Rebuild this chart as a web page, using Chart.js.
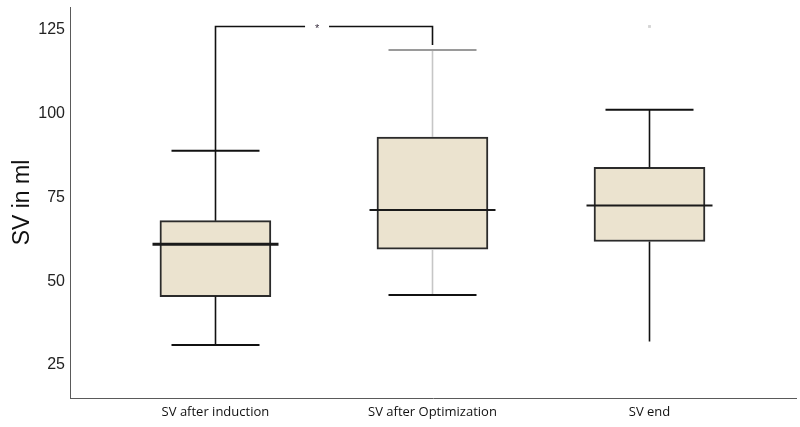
<!DOCTYPE html>
<html>
<head>
<meta charset="utf-8">
<script src="https://cdn.jsdelivr.net/npm/chart.js@4.4.1/dist/chart.umd.min.js"></script>
<style>
    html, body { margin: 0; padding: 0; background: #fff; }
    #wrap { width: 800px; height: 427px; }
</style>
</head>
<body>
<div id="wrap"><canvas id="boxChart"></canvas></div>
<script>
// Box plot values
const categories = ['SV after induction', 'SV after Optimization', 'SV end'];
const whiskerLow = [31.0, 45.9, 32.0];
const quartile1 = [45.4, 59.5, 61.8];
const medians = [61.0, 71.2, 72.5];
const quartile3 = [68.0, 92.9, 83.9];
const whiskerHigh = [88.8, 118.8, 101.0];
const outlierPoints = [{ x: 2, y: 125.8 }];
const yTicks = [25, 50, 75, 100, 125];

// Significance bracket between group 0 and group 1
const bracketTop = 125.8;
const bracketRightEnd = 120.3;
const bracketLabel = '*';

// Styling per group
const stemColors = ['#111', '#c6c6c6', '#111'];
const upperCapColors = ['#111', '#9a9a9a', '#111'];
const lowerCapColors = ['#111', '#111', null];
const medianWidths = [3, 2, 2];

const boxData = categories.map((c, i) => ({ x: i, y: [quartile1[i], quartile3[i]] }));

const boxExtras = {
    id: 'boxExtras',
    afterDatasetsDraw(chart) {
        const { ctx, scales: { x, y } } = chart;
        const capHalf = 44;
        const medHalf = 63;
        ctx.save();
        ctx.lineCap = 'butt';
        categories.forEach((c, i) => {
            const cx = Math.round(x.getPixelForValue(i)) + 0.5;
            // stems
            ctx.strokeStyle = stemColors[i];
            ctx.lineWidth = 1.6;
            ctx.beginPath();
            ctx.moveTo(cx, y.getPixelForValue(quartile3[i]));
            ctx.lineTo(cx, y.getPixelForValue(whiskerHigh[i]));
            ctx.moveTo(cx, y.getPixelForValue(quartile1[i]));
            ctx.lineTo(cx, y.getPixelForValue(whiskerLow[i]));
            ctx.stroke();
            // caps
            ctx.lineWidth = 2;
            if (upperCapColors[i]) {
                ctx.strokeStyle = upperCapColors[i];
                const yy = y.getPixelForValue(whiskerHigh[i]);
                ctx.beginPath();
                ctx.moveTo(cx - capHalf, yy);
                ctx.lineTo(cx + capHalf, yy);
                ctx.stroke();
            }
            if (lowerCapColors[i]) {
                ctx.strokeStyle = lowerCapColors[i];
                const yy = y.getPixelForValue(whiskerLow[i]);
                ctx.beginPath();
                ctx.moveTo(cx - capHalf, yy);
                ctx.lineTo(cx + capHalf, yy);
                ctx.stroke();
            }
            // median
            ctx.strokeStyle = '#1a1a1a';
            ctx.lineWidth = medianWidths[i];
            const my = y.getPixelForValue(medians[i]);
            ctx.beginPath();
            ctx.moveTo(cx - medHalf, my);
            ctx.lineTo(cx + medHalf, my);
            ctx.stroke();
        });

        // bracket
        const x0 = Math.round(x.getPixelForValue(0)) + 0.5;
        const x1 = Math.round(x.getPixelForValue(1)) + 0.5;
        const yTop = y.getPixelForValue(bracketTop);
        const starX = x0 + (x1 - x0) * 0.468;
        const gap = 12;
        ctx.strokeStyle = '#111';
        ctx.lineWidth = 1.6;
        ctx.beginPath();
        ctx.moveTo(x0, y.getPixelForValue(whiskerHigh[0]));
        ctx.lineTo(x0, yTop);
        ctx.lineTo(starX - gap, yTop);
        ctx.moveTo(starX + gap, yTop);
        ctx.lineTo(x1, yTop);
        ctx.lineTo(x1, y.getPixelForValue(bracketRightEnd));
        ctx.stroke();
        ctx.fillStyle = '#3a3040';
        ctx.font = '11px "Liberation Sans", Arial, sans-serif';
        ctx.textAlign = 'center';
        ctx.textBaseline = 'middle';
        ctx.fillText(bracketLabel, starX, yTop + 2);
        ctx.restore();
    }
};

new Chart(document.getElementById('boxChart'), {
    type: 'bar',
    data: {
        datasets: [{
            label: 'IQR',
            data: boxData,
            backgroundColor: 'rgb(235, 227, 207)',
            borderColor: '#2b2b2b',
            borderWidth: 2,
            borderSkipped: false,
            barThickness: 111
        }, {
            type: 'scatter',
            label: 'Outliers',
            data: outlierPoints,
            pointRadius: 2,
            pointStyle: 'rect',
            backgroundColor: '#d4d4d4',
            borderWidth: 0
        }]
    },
    options: {
        responsive: true,
        maintainAspectRatio: false,
        animation: false,
        layout: { padding: { top: 7, right: 1, left: 0, bottom: 0 } },
        plugins: {
            legend: { display: false },
            tooltip: { enabled: false }
        },
        scales: {
            x: {
                type: 'linear',
                offset: false,
                min: -0.670,
                max: 2.675,
                afterBuildTicks: scale => { scale.ticks = categories.map((c, i) => ({ value: i })); },
                afterFit: scale => { scale.height = 29; scale.paddingLeft = 0; scale.paddingRight = 0; },
                grid: { display: false, drawTicks: false },
                border: { display: true, color: '#5a5a5a', width: 1 },
                ticks: {
                    padding: 6,
                    color: '#111',
                    maxRotation: 0,
                    autoSkip: false,
                    font: { family: '"Open Sans", sans-serif', size: 13 },
                    callback: v => categories[v] ?? ''
                }
            },
            y: {
                min: 15.2,
                max: 131.6,
                afterBuildTicks: scale => { scale.ticks = yTicks.map(v => ({ value: v })); },
                afterFit: scale => { scale.width = 70; scale.paddingTop = 0; scale.paddingBottom = 0; },
                grid: { display: false, drawTicks: false },
                border: { display: true, color: '#5a5a5a', width: 1 },
                ticks: {
                    padding: 5,
                    color: '#222',
                    font: { family: '"Liberation Sans", Arial, sans-serif', size: 16 }
                },
                title: {
                    display: true,
                    text: 'SV in ml',
                    color: '#111',
                    padding: { top: 9 },
                    font: { family: '"Liberation Sans", Arial, sans-serif', size: 23 }
                }
            }
        }
    },
    plugins: [boxExtras]
});
</script>
</body>
</html>
